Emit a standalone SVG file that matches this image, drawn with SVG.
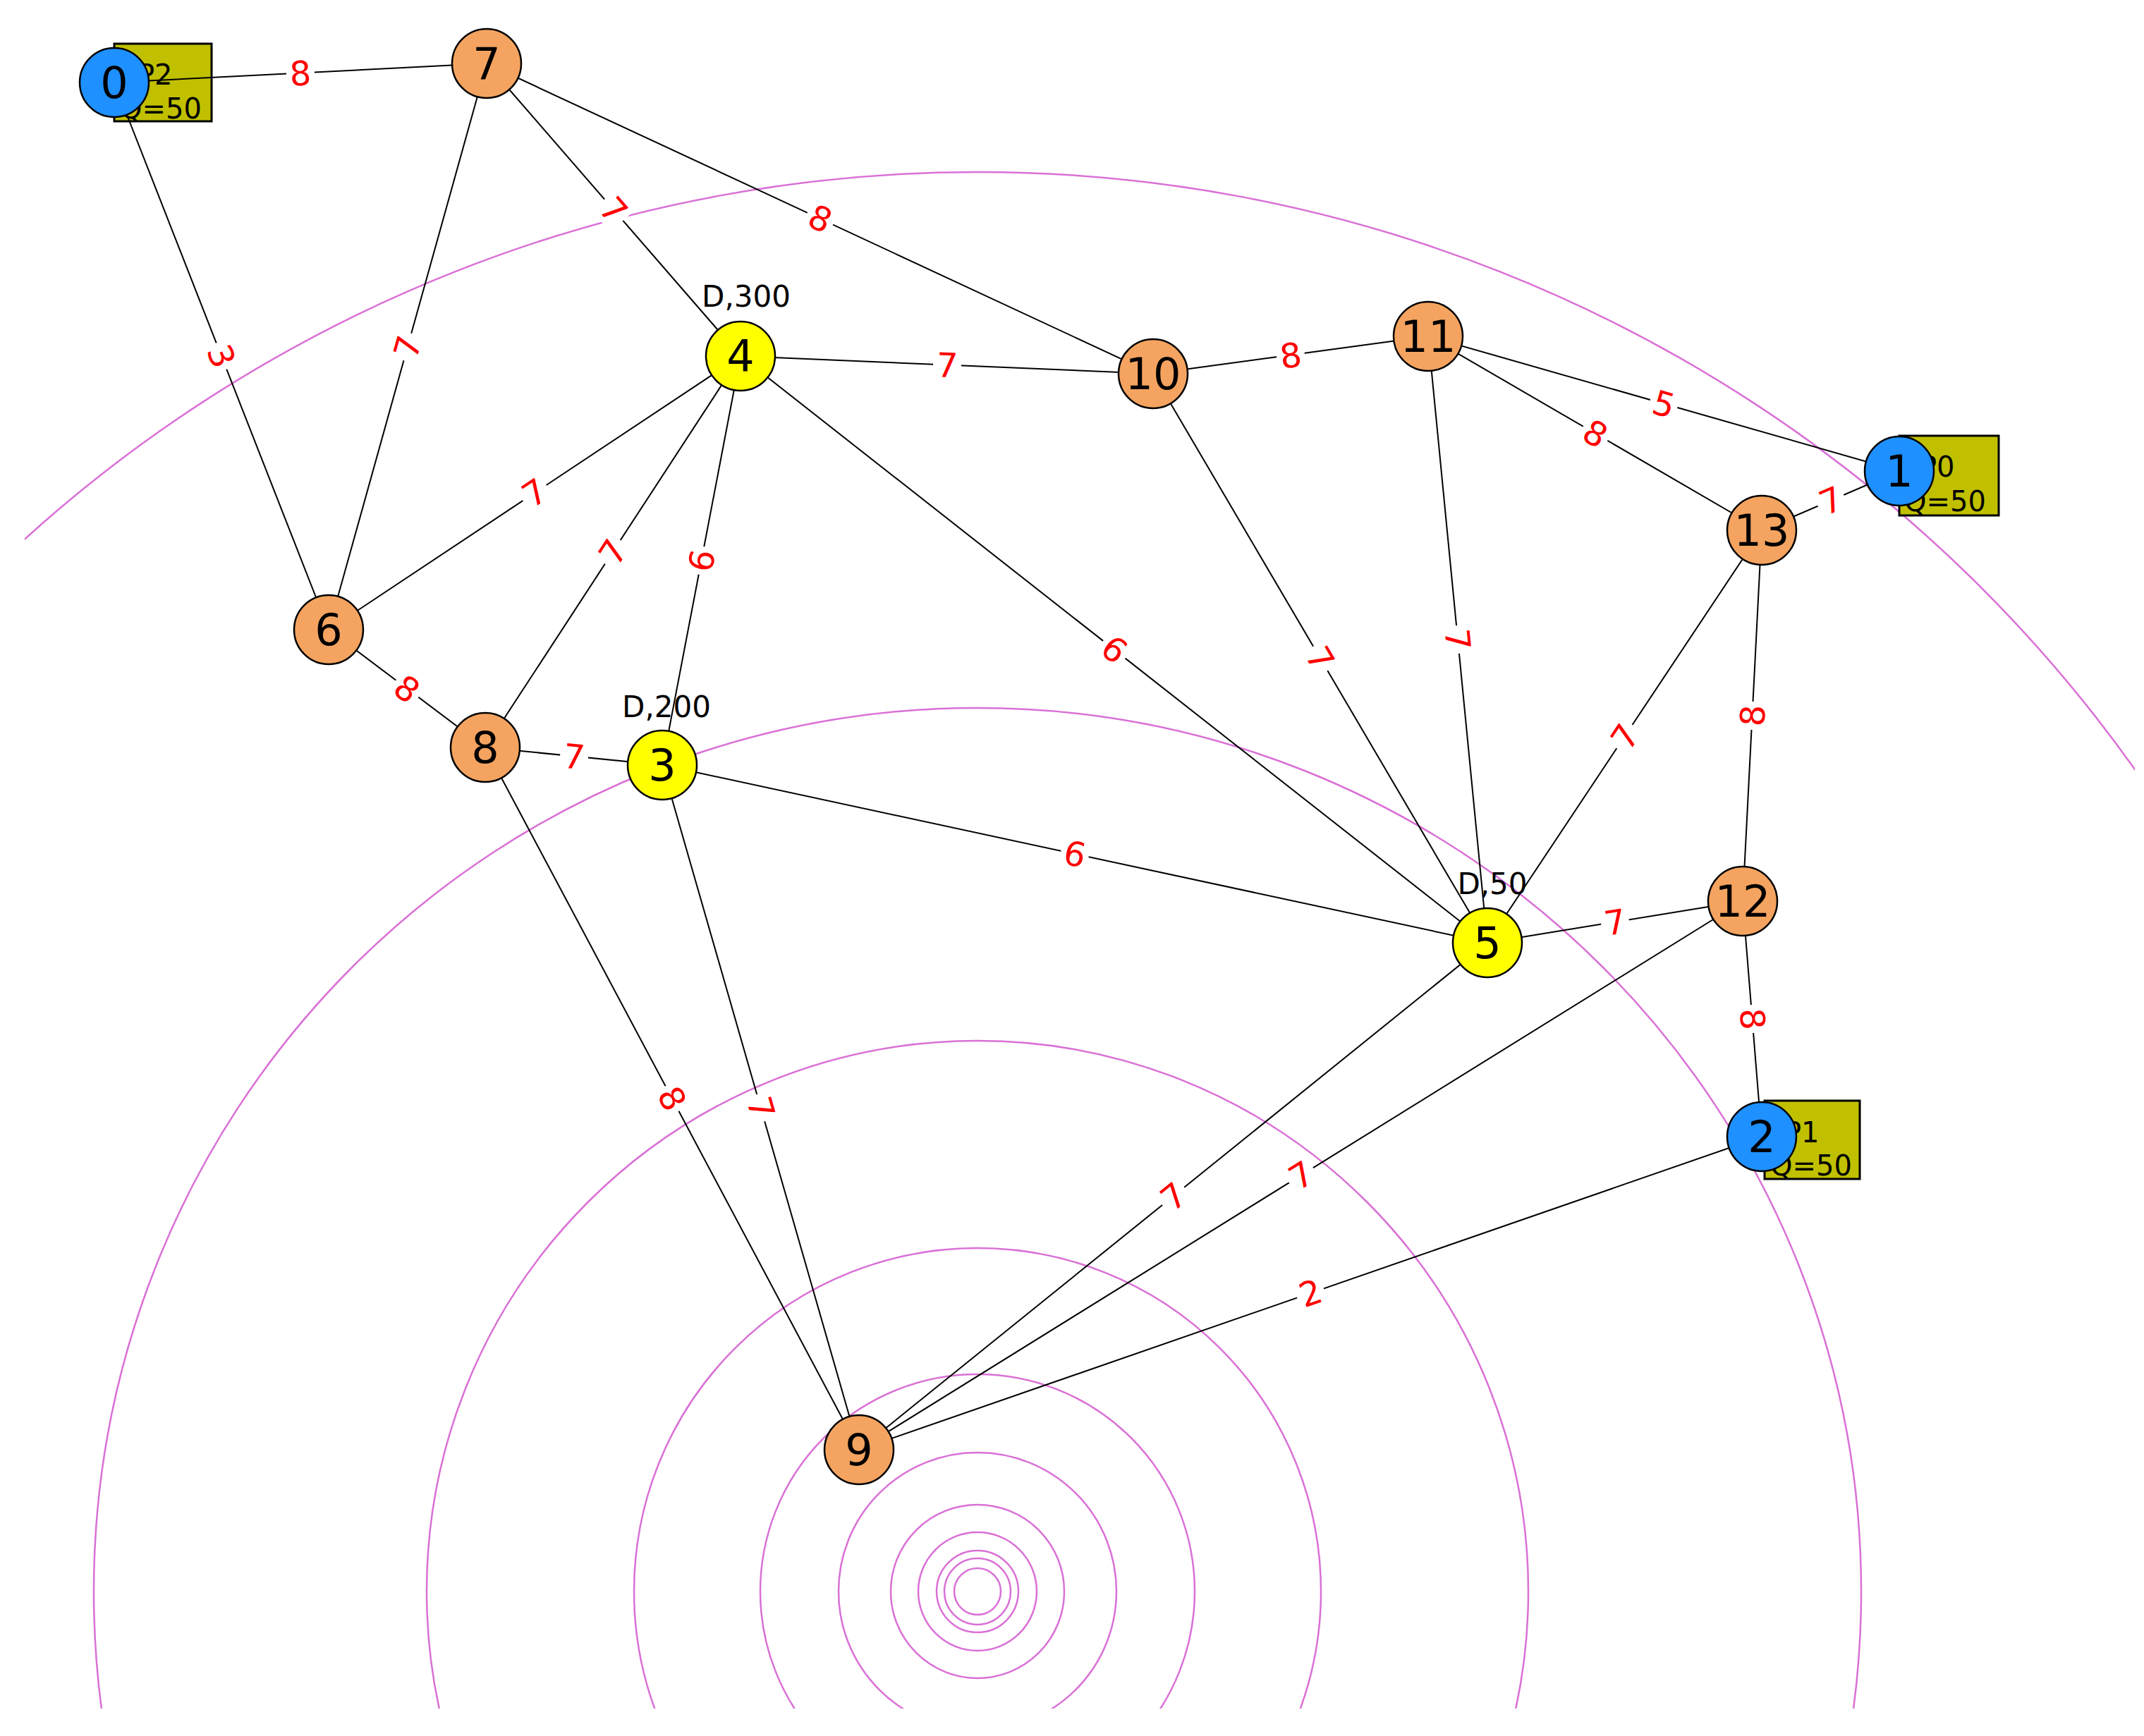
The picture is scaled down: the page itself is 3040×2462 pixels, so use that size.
<svg xmlns="http://www.w3.org/2000/svg" width="3040" height="2462" viewBox="0 0 3040 2462">
<style>
.ring{fill:none;stroke:#da70d6;stroke-width:2.5}
.e{stroke:#000;stroke-width:2}
.lb rect{fill:#fff}
.lb text{fill:#f00;font:48px "DejaVu Sans",sans-serif;text-anchor:middle;dominant-baseline:central}
.n circle{stroke:#000;stroke-width:2.5}
.n text{font:62px "DejaVu Sans",sans-serif;text-anchor:middle;dominant-baseline:central;fill:#000}
.o{fill:#f4a460}.y{fill:#ffff00}.b{fill:#1e90ff}
.bx{fill:#c0c000;stroke:#000;stroke-width:3}
.bt{font:40px "DejaVu Sans",sans-serif;fill:#000}
.d{font:42px "DejaVu Sans",sans-serif;fill:#000;text-anchor:middle}
</style>
<defs><clipPath id="c"><rect x="35" y="0" width="2992" height="2423"/></clipPath></defs>
<rect width="3040" height="2462" fill="#fff"/>
<g id="rings" clip-path="url(#c)">
<circle class="ring" cx="1386" cy="2257" r="2013"/>
<circle class="ring" cx="1386" cy="2257" r="1253"/>
<circle class="ring" cx="1386" cy="2257" r="781"/>
<circle class="ring" cx="1386" cy="2257" r="487"/>
<circle class="ring" cx="1386" cy="2257" r="308"/>
<circle class="ring" cx="1386" cy="2257" r="197"/>
<circle class="ring" cx="1386" cy="2257" r="123"/>
<circle class="ring" cx="1386" cy="2257" r="84"/>
<circle class="ring" cx="1386" cy="2257" r="58"/>
<circle class="ring" cx="1386" cy="2257" r="47"/>
<circle class="ring" cx="1386" cy="2257" r="33"/>
</g>
<g id="boxes">
<rect class="bx" x="162" y="62" width="138" height="110"/>
<text class="bt" x="195" y="120">P2</text><text class="bt" x="170" y="168">Q=50</text>
<rect class="bx" x="2693" y="618" width="141" height="113"/>
<text class="bt" x="2722" y="676">P0</text><text class="bt" x="2700" y="725">Q=50</text>
<rect class="bx" x="2502" y="1561" width="135" height="111"/>
<text class="bt" x="2530" y="1620">P1</text><text class="bt" x="2510" y="1667">Q=50</text>
</g>
<g id="edges">
<line class="e" x1="162" y1="117" x2="690" y2="90"/>
<line class="e" x1="162" y1="117" x2="466" y2="893"/>
<line class="e" x1="690" y1="90" x2="466" y2="893"/>
<line class="e" x1="690" y1="90" x2="1050" y2="505"/>
<line class="e" x1="690" y1="90" x2="1635" y2="530"/>
<line class="e" x1="1050" y1="505" x2="1635" y2="530"/>
<line class="e" x1="1635" y1="530" x2="2025" y2="477"/>
<line class="e" x1="2025" y1="477" x2="2693" y2="668"/>
<line class="e" x1="2025" y1="477" x2="2498" y2="752"/>
<line class="e" x1="2498" y1="752" x2="2693" y2="668"/>
<line class="e" x1="1050" y1="505" x2="466" y2="893"/>
<line class="e" x1="1050" y1="505" x2="688" y2="1060"/>
<line class="e" x1="1050" y1="505" x2="939" y2="1085"/>
<line class="e" x1="1050" y1="505" x2="2109" y2="1337"/>
<line class="e" x1="1635" y1="530" x2="2109" y2="1337"/>
<line class="e" x1="2025" y1="477" x2="2109" y2="1337"/>
<line class="e" x1="2498" y1="752" x2="2109" y2="1337"/>
<line class="e" x1="2498" y1="752" x2="2471" y2="1278"/>
<line class="e" x1="466" y1="893" x2="688" y2="1060"/>
<line class="e" x1="688" y1="1060" x2="939" y2="1085"/>
<line class="e" x1="939" y1="1085" x2="2109" y2="1337"/>
<line class="e" x1="2109" y1="1337" x2="2471" y2="1278"/>
<line class="e" x1="2471" y1="1278" x2="2498" y2="1612"/>
<line class="e" x1="688" y1="1060" x2="1218" y2="2056"/>
<line class="e" x1="939" y1="1085" x2="1218" y2="2056"/>
<line class="e" x1="2109" y1="1337" x2="1218" y2="2056"/>
<line class="e" x1="2471" y1="1278" x2="1218" y2="2056"/>
<line class="e" x1="2498" y1="1612" x2="1218" y2="2056"/>
</g>
<g id="edge-labels" class="lb">
<g transform="translate(426,104) rotate(-2.9)"><rect x="-20" y="-24" width="40" height="48"/><text>8</text></g>
<g transform="translate(314,505) rotate(68.6)"><rect x="-20" y="-24" width="40" height="48"/><text>3</text></g>
<g transform="translate(578,492) rotate(-74.4)"><rect x="-20" y="-24" width="40" height="48"/><text>7</text></g>
<g transform="translate(870,298) rotate(49.1)"><rect x="-20" y="-24" width="40" height="48"/><text>7</text></g>
<g transform="translate(1163,310) rotate(25)"><rect x="-20" y="-24" width="40" height="48"/><text>8</text></g>
<g transform="translate(1343,518) rotate(2.4)"><rect x="-20" y="-24" width="40" height="48"/><text>7</text></g>
<g transform="translate(1830,504) rotate(-7.7)"><rect x="-20" y="-24" width="40" height="48"/><text>8</text></g>
<g transform="translate(2359,573) rotate(16)"><rect x="-20" y="-24" width="40" height="48"/><text>5</text></g>
<g transform="translate(2262,615) rotate(30.2)"><rect x="-20" y="-24" width="40" height="48"/><text>8</text></g>
<g transform="translate(2596,710) rotate(-23.3)"><rect x="-20" y="-24" width="40" height="48"/><text>7</text></g>
<g transform="translate(758,699) rotate(-33.6)"><rect x="-20" y="-24" width="40" height="48"/><text>7</text></g>
<g transform="translate(869,783) rotate(-56.9)"><rect x="-20" y="-24" width="40" height="48"/><text>7</text></g>
<g transform="translate(995,795) rotate(-79.2)"><rect x="-20" y="-24" width="40" height="48"/><text>6</text></g>
<g transform="translate(1580,921) rotate(38.2)"><rect x="-20" y="-24" width="40" height="48"/><text>6</text></g>
<g transform="translate(1872,934) rotate(59.6)"><rect x="-20" y="-24" width="40" height="48"/><text>7</text></g>
<g transform="translate(2067,907) rotate(84.4)"><rect x="-20" y="-24" width="40" height="48"/><text>7</text></g>
<g transform="translate(2304,1045) rotate(-56.4)"><rect x="-20" y="-24" width="40" height="48"/><text>7</text></g>
<g transform="translate(2485,1015) rotate(-87.1)"><rect x="-20" y="-24" width="40" height="48"/><text>8</text></g>
<g transform="translate(577,977) rotate(37)"><rect x="-20" y="-24" width="40" height="48"/><text>8</text></g>
<g transform="translate(814,1073) rotate(5.7)"><rect x="-20" y="-24" width="40" height="48"/><text>7</text></g>
<g transform="translate(1524,1211) rotate(12.2)"><rect x="-20" y="-24" width="40" height="48"/><text>6</text></g>
<g transform="translate(2290,1308) rotate(-9.3)"><rect x="-20" y="-24" width="40" height="48"/><text>7</text></g>
<g transform="translate(2485,1445) rotate(85.4)"><rect x="-20" y="-24" width="40" height="48"/><text>8</text></g>
<g transform="translate(953,1558) rotate(62)"><rect x="-20" y="-24" width="40" height="48"/><text>8</text></g>
<g transform="translate(1079,1571) rotate(74)"><rect x="-20" y="-24" width="40" height="48"/><text>7</text></g>
<g transform="translate(1664,1697) rotate(-38.9)"><rect x="-20" y="-24" width="40" height="48"/><text>7</text></g>
<g transform="translate(1845,1667) rotate(-31.8)"><rect x="-20" y="-24" width="40" height="48"/><text>7</text></g>
<g transform="translate(1858,1834) rotate(-19.1)"><rect x="-20" y="-24" width="40" height="48"/><text>2</text></g>
</g>
<g id="node-0" class="n"><circle class="b" cx="162" cy="117" r="49"/><text x="162" y="117">0</text></g>
<g id="node-1" class="n"><circle class="b" cx="2693" cy="668" r="49"/><text x="2693" y="668">1</text></g>
<g id="node-2" class="n"><circle class="b" cx="2498" cy="1612" r="49"/><text x="2498" y="1612">2</text></g>
<g id="node-3" class="n"><circle class="y" cx="939" cy="1085" r="49"/><text x="939" y="1085">3</text></g>
<g id="node-4" class="n"><circle class="y" cx="1050" cy="505" r="49"/><text x="1050" y="505">4</text></g>
<g id="node-5" class="n"><circle class="y" cx="2109" cy="1337" r="49"/><text x="2109" y="1337">5</text></g>
<g id="node-6" class="n"><circle class="o" cx="466" cy="893" r="49"/><text x="466" y="893">6</text></g>
<g id="node-7" class="n"><circle class="o" cx="690" cy="90" r="49"/><text x="690" y="90">7</text></g>
<g id="node-8" class="n"><circle class="o" cx="688" cy="1060" r="49"/><text x="688" y="1060">8</text></g>
<g id="node-9" class="n"><circle class="o" cx="1218" cy="2056" r="49"/><text x="1218" y="2056">9</text></g>
<g id="node-10" class="n"><circle class="o" cx="1635" cy="530" r="49"/><text x="1635" y="530">10</text></g>
<g id="node-11" class="n"><circle class="o" cx="2025" cy="477" r="49"/><text x="2025" y="477">11</text></g>
<g id="node-12" class="n"><circle class="o" cx="2471" cy="1278" r="49"/><text x="2471" y="1278">12</text></g>
<g id="node-13" class="n"><circle class="o" cx="2498" cy="752" r="49"/><text x="2498" y="752">13</text></g>
<g id="demands">
<text class="d" x="1058" y="435">D,300</text>
<text class="d" x="945" y="1017">D,200</text>
<text class="d" x="2116" y="1268">D,50</text>
</g>
</svg>
